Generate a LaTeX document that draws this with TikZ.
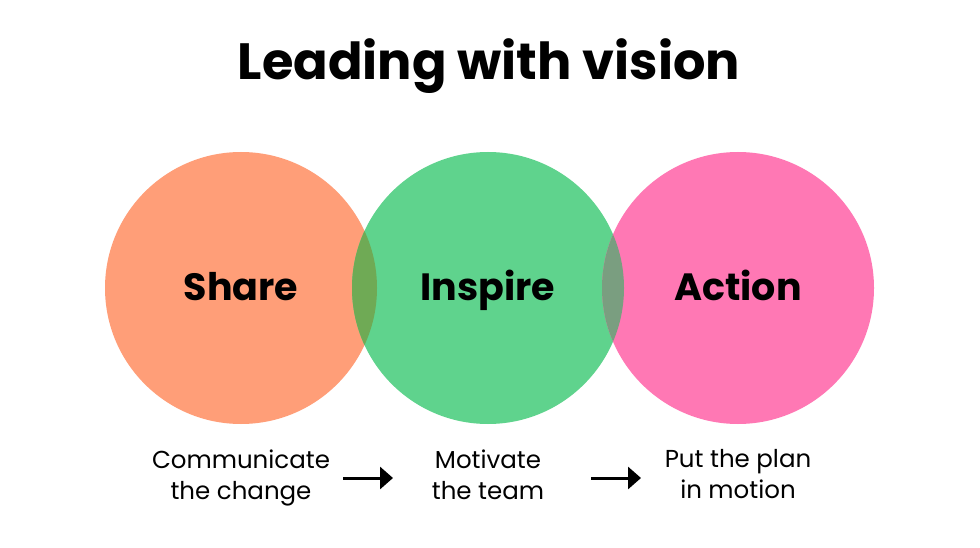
\documentclass[tikz,border=0pt]{standalone}
\usepackage{fontspec}
\setmainfont{Poppins}
\usetikzlibrary{arrows.meta}
\definecolor{cOr}{HTML}{FF9E78}
\definecolor{cGr}{HTML}{5FD38D}
\definecolor{cPk}{HTML}{FF78B4}
\definecolor{cOG}{HTML}{6FAA55}
\definecolor{cGP}{HTML}{7A9E80}
\tikzset{
  big/.style={font=\fontsize{38}{40}\selectfont\bfseries, anchor=base},
  captxt/.style={font=\fontsize{24.5}{31}\selectfont, align=center, anchor=north},
  flow/.style={line width=3pt,-{Triangle[length=13pt,width=22pt]}}
}
\begin{document}
\begin{tikzpicture}[x=1pt,y=-1pt]
\useasboundingbox (0,0) rectangle (980,548);
\fill[white] (0,0) rectangle (980,548);
\fill[cOr] (241,288) circle (136);
\fill[cGr] (488,288) circle (136);
\fill[cPk] (738,288) circle (136);
\begin{scope}\clip (241,288) circle (136); \fill[cOG] (488,288) circle (136);\end{scope}
\begin{scope}\clip (488,288) circle (136); \fill[cGP] (738,288) circle (136);\end{scope}
\node[font=\fontsize{51}{55}\selectfont\bfseries, anchor=base] (t) at (489,80) {Leading with vision};
\node[big] (s) at (241,300) {Share};
\node[big] (i) at (488,300) {Inspire};
\node[big] (a) at (738,300) {Action};
\node[captxt] (c1) at (241,446) {Communicate\\the change};
\node[captxt] (c2) at (488,446) {Motivate\\the team};
\node[captxt] (c3) at (738,446) {Put the plan\\in motion};
\coordinate (p1) at (343,478); \coordinate (q1) at (393,478);
\coordinate (p2) at (591,478); \coordinate (q2) at (641,478);
\draw[flow] (p1) -- (q1);
\draw[flow] (p2) -- (q2);
\end{tikzpicture}
\end{document}
